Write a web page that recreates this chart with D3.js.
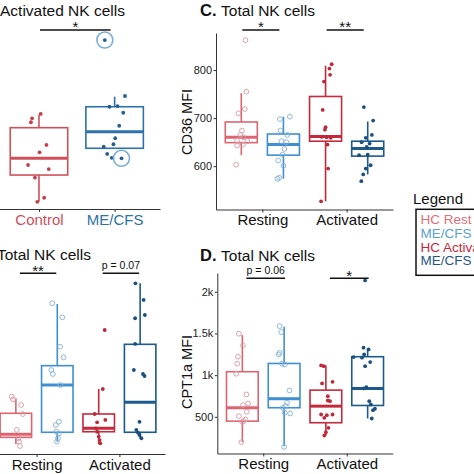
<!DOCTYPE html>
<html>
<head>
<meta charset="utf-8">
<script src="https://cdn.jsdelivr.net/npm/d3@7"></script>
<style>
  body { margin: 0; background: #fff; }
  svg { display: block; font-family: "Liberation Sans", Arial, sans-serif; }
</style>
</head>
<body>
<svg id="fig" width="474" height="474"></svg>
<script>
// ---- data ----
// box stats are [low whisker, q1, median, q3, high whisker]
var groupsA = ["Control", "ME/CFS"];
var boxA = [[4.1, 19.3, 28.8, 46.2, 53.4], [34.5, 34.5, 43.9, 58.1, 63.8]];
var pointsA = [
  [54, 51.5, 49.3, 36.4, 32.2, 25, 22.7, 17.8, 6.4, 4.1],
  [96, 64.2, 58.5, 58.1, 54.7, 47.3, 40.2, 36.8, 35.4, 31.3, 29.1, 28.8]
];
var jitterA = [
  [.03, -.12, -.14, .13, .01, -.19, .17, -.07, .09, -.03],
  [-.17, .18, .05, -.09, .15, .08, .01, -.02, -.19, -.13, -.05, .12]
];
var circledA = [[], [0, 11]];
var sigA = ["*"];

var conditions = ["Resting", "Activated"];
var groups = ["HC Rest", "ME/CFS Rest", "HC Activated", "ME/CFS Activated"];
var legendLabels = ["HC Rest", "ME/CFS", "HC Activated", "ME/CFS"];

var boxB = [[5.5, 9.2, 10.9, 22.5, 30.8], [6.8, 12, 38.1, 48.8, 82.9],
            [5.5, 12.3, 14.2, 22.1, 35.9], [8.7, 12, 28.6, 60.6, 94.3]];
var pointsB = [
  [31.7, 30.2, 27.1, 22.1, 13.3, 8.7, 6.8, 4.4],
  [83.3, 75.5, 59.3, 53.4, 46.4, 44.2, 38.1, 17.8, 16, 12.3, 11.4, 8.7, 6.8],
  [68.5, 35.9, 22.1, 18.8, 17.5, 14.2, 12.3, 9.6, 7.7, 5.9],
  [94.3, 85.1, 76.8, 75, 60.8, 46.4, 44.2, 43.1, 17.8, 13.3, 11.8, 10.5, 8.7]
];
var jitterB = [
  [-.13, -.09, .17, .22, .03, .08, .1, .13],
  [-.16, .16, .09, .2, -.19, -.14, .1, .05, -.05, -.03, .05, .02, -.01],
  [.19, .13, -.13, .21, -.05, -.09, -.05, 0, .03, .05],
  [-.15, .11, .15, -.16, -.16, -.2, .09, .14, -.02, -.12, -.07, -.02, .04]
];
var sigB = ["**", "p = 0.07"];

var boxC = [[623, 649, 660, 692, 752], [574, 623, 645, 667, 703],
            [527, 652, 662, 745, 809], [583, 621, 637, 652, 693]];
var pointsC = [
  [862, 755, 719, 710, 674, 665, 660, 653, 652, 645, 643, 603],
  [703, 698, 674, 665, 652, 650, 636, 624, 612, 601, 576, 574],
  [812, 803, 790, 776, 717, 681, 676, 661, 660, 659, 645, 595, 527],
  [723, 695, 665, 659, 650, 647, 640, 624, 623, 602, 595, 583, 569]
];
var jitterC = [
  [.13, .16, .11, -.09, .02, -.03, .06, -.13, .19, .05, -.13, -.16],
  [.2, -.11, -.09, .12, -.06, .09, .03, -.03, -.16, 0, -.13, -.19],
  [.19, .12, .14, -.05, -.09, 0, -.02, -.12, .03, .16, .06, .08, -.14],
  [-.12, .17, .13, -.06, -.19, .06, -.03, 0, -.27, .09, -.06, -.14, -.2]
];
var ticksC = [600, 700, 800];
var sigC = ["*", "**"];

var boxD = [[196, 448, 609, 1041, 1480], [148, 609, 717, 1140, 1581],
            [276, 429, 628, 820, 1120], [480, 636, 841, 1221, 1320]];
var pointsD = [
  [1497, 1356, 1221, 1137, 1017, 768, 660, 640, 561, 508, 468, 450, 436, 196],
  [1588, 1516, 1268, 1248, 1137, 1128, 816, 669, 628, 609, 549, 540, 140],
  [1116, 1108, 920, 900, 748, 696, 688, 528, 528, 520, 488, 368, 316, 276],
  [2136, 1329, 1308, 1248, 1216, 1209, 1156, 1108, 856, 840, 688, 648, 597, 580, 480]
];
var jitterD = [
  [-.11, .02, -.14, -.16, -.19, .13, .18, .02, .14, -.11, .1, .03, 0, -.03],
  [-.14, -.09, -.14, -.17, -.07, .02, .17, .09, .05, -.04, .02, .19, 0],
  [-.15, -.07, .21, -.12, .06, .06, .13, -.15, .21, .03, -.05, .08, 0, -.05],
  [-.08, -.13, .03, -.11, -.44, -.18, .08, -.08, -.04, -.12, .05, .1, .23, .17, .13]
];
var ticksD = [500, 1000, 1500, 2000];
var tickLabelsD = ["500", "1k", "1.5k", "2k"];
var sigD = ["p = 0.06", "*"];

// ---- styles ----
var boxColors = ["#dc6570", "#3f8fd2", "#c52a3c", "#1c5a8c"];
var dotColors = ["#d79aa3", "#84b0d8", "#c0283a", "#1a4f80"];
var hollow = [true, true, false, false];
var colorsA = ["#d0505a", "#2d72aa"];
var dotColorsA = ["#c73d49", "#245e92"];
var legendColors = ["#e0707a", "#5a9fd6", "#c8283c", "#1f5689"];

var svg = d3.select("#fig");

function drawBoxes(g, stats, cx, w, y, strokes) {
  stats.forEach(function (s, i) {
    var c = cx(i), col = strokes[i];
    var b = g.append("g").attr("fill", "none").attr("stroke", col).attr("stroke-width", 1.6);
    b.append("line").attr("x1", c).attr("x2", c).attr("y1", y(s[3])).attr("y2", y(s[4]));
    b.append("line").attr("x1", c).attr("x2", c).attr("y1", y(s[1])).attr("y2", y(s[0]));
    b.append("rect").attr("x", c - w / 2).attr("width", w)
      .attr("y", y(s[3])).attr("height", y(s[1]) - y(s[3])).attr("fill", "#fff");
    b.append("line").attr("x1", c - w / 2).attr("x2", c + w / 2)
      .attr("y1", y(s[2])).attr("y2", y(s[2])).attr("stroke-width", 3);
  });
}

function drawPoints(g, pts, jit, cx, w, y, cols, isHollow) {
  pts.forEach(function (vals, i) {
    g.append("g").selectAll("circle").data(vals).enter().append("circle")
      .attr("cx", function (d, k) { return cx(i) + jit[i][k] * w; })
      .attr("cy", function (d) { return y(d); })
      .attr("r", isHollow[i] ? 2.4 : 1.9)
      .attr("fill", isHollow[i] ? "none" : cols[i])
      .attr("stroke", isHollow[i] ? cols[i] : "none")
      .attr("stroke-width", 0.9);
  });
}

function drawSig(g, x1, x2, yLine, label) {
  g.append("line").attr("x1", x1).attr("x2", x2).attr("y1", yLine).attr("y2", yLine)
    .attr("stroke", "#111").attr("stroke-width", 1.5);
  var star = label.indexOf("*") === 0;
  g.append("text").attr("x", (x1 + x2) / 2).attr("y", star ? yLine + 2.3 : yLine - 4.5)
    .attr("text-anchor", "middle").attr("font-size", star ? 15 : 10.5)
    .attr("fill", "#111").text(label);
}

function styleAxis(a) {
  a.select(".domain").attr("stroke", "#333").attr("stroke-width", 1);
  a.selectAll(".tick line").attr("stroke", "#333");
}

function title(x, yb, letter, text) {
  var t = svg.append("text").attr("x", x).attr("y", yb).attr("fill", "#111");
  if (letter) t.append("tspan").attr("font-weight", "bold").attr("font-size", 16.5).text(letter + " ");
  t.append("tspan").attr("font-size", 15.5).text(text);
}

// ---- panel A (top left, cropped) ----
(function () {
  var x = d3.scalePoint().domain(groupsA).range([-6.4, 160]).padding(0.6);
  var y = d3.scaleLinear().domain([0, 100]).range([209, 33]);
  var w = x.step() * 0.76;
  var cx = function (i) { return x(groupsA[i]); };
  var g = svg.append("g");
  drawBoxes(g, boxA, cx, w, y, colorsA);
  drawPoints(g, pointsA, jitterA, cx, w, y, dotColorsA, [false, false]);
  circledA.forEach(function (idx, i) {
    idx.forEach(function (k) {
      g.append("circle").attr("cx", cx(i) + jitterA[i][k] * w).attr("cy", y(pointsA[i][k]))
        .attr("r", 8).attr("fill", "none").attr("stroke", "#7eaed6").attr("stroke-width", 1.6);
    });
  });
  var ax = g.append("g").attr("transform", "translate(0,209)")
    .call(d3.axisBottom(x).tickSize(3).tickPadding(2).tickSizeOuter(0));
  styleAxis(ax);
  ax.selectAll(".tick text").attr("font-size", 15)
    .attr("fill", function (d, i) { return colorsA[i]; });
  drawSig(g, cx(0) + 1, cx(1) - 4, 30, sigA[0]);
  title(0, 16, null, "Activated NK cells");
})();

// ---- four-box panels ----
function panel(opt) {
  var x = d3.scalePoint().domain(conditions).range(opt.xRange).padding(0.55);
  var y = d3.scaleLinear().domain(opt.yDomain).range(opt.yRange);
  var dodge = x.step() * 0.25, w = x.step() * 0.38;
  var cx = function (i) { return x(conditions[Math.floor(i / 2)]) + (i % 2 ? dodge : -dodge); };
  var g = svg.append("g");
  drawBoxes(g, opt.boxes, cx, w, y, boxColors);
  drawPoints(g, opt.points, opt.jitter, cx, w, y, dotColors, hollow);
  var ax = g.append("g").attr("transform", "translate(0," + opt.yRange[0] + ")")
    .call(d3.axisBottom(x).tickSize(3).tickPadding(2).tickSizeOuter(0));
  styleAxis(ax);
  ax.selectAll(".tick text").attr("font-size", 15).attr("fill", "#111");
  if (opt.ticks) {
    var ay = g.append("g").attr("transform", "translate(" + opt.xRange[0] + ",0)")
      .call(d3.axisLeft(y).tickValues(opt.ticks).tickSize(2.5).tickPadding(1.5).tickSizeOuter(0)
        .tickFormat(function (d, i) { return opt.tickLabels ? opt.tickLabels[i] : d; }));
    styleAxis(ay);
    ay.selectAll(".tick text").attr("font-size", 11).attr("fill", "#222");
    g.append("text").attr("transform", "translate(" + opt.yLabelPos + ") rotate(-90)")
      .attr("text-anchor", "middle").attr("font-size", 14.5).attr("fill", "#111").text(opt.yLabel);
  }
  opt.sig.forEach(function (lab, j) {
    drawSig(g, cx(2 * j) + opt.sigNudge[0], cx(2 * j + 1) + opt.sigNudge[1], opt.sigY, lab);
  });
  title(opt.titlePos[0], opt.titlePos[1], opt.letter, "Total NK cells");
}

panel({ xRange: [-9, 165], yDomain: [0, 100], yRange: [454, 273],
  boxes: boxB, points: pointsB, jitter: jitterB, sig: sigB, sigY: 273.3, sigNudge: [4, -1],
  titlePos: [-3, 260], letter: null });

panel({ xRange: [216, 393], yDomain: [510, 877], yRange: [209.5, 33],
  boxes: boxC, points: pointsC, jitter: jitterC, ticks: ticksC,
  yLabel: "CD36 MFI", yLabelPos: "191.5,122",
  sig: sigC, sigY: 30, sigNudge: [1, -4], titlePos: [200, 16], letter: "C." });

panel({ xRange: [217.3, 392.7], yDomain: [60, 2225], yRange: [453.5, 273],
  boxes: boxD, points: pointsD, jitter: jitterD, ticks: ticksD, tickLabels: tickLabelsD,
  yLabel: "CPT1a MFI", yLabelPos: "192,372",
  sig: sigD, sigY: 278.3, sigNudge: [4, 1], titlePos: [200, 261], letter: "D." });

// ---- legend (cropped at right edge) ----
var lg = svg.append("g");
lg.append("text").attr("x", 413).attr("y", 204).attr("font-size", 15).attr("fill", "#111").text("Legend");
lg.append("rect").attr("x", 416).attr("y", 209.3).attr("width", 80).attr("height", 66)
  .attr("fill", "#fff").attr("stroke", "#111").attr("stroke-width", 1.5);
lg.selectAll("text.item").data(legendLabels).enter().append("text")
  .attr("class", "item").attr("x", 420.5)
  .attr("y", function (d, i) { return 224.3 + i * 13.6; })
  .attr("font-size", 13.5).attr("fill", function (d, i) { return legendColors[i]; })
  .text(function (d) { return d; });
</script>
</body>
</html>
